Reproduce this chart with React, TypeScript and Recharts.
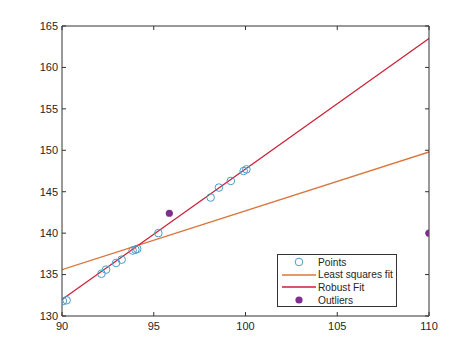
import React from 'react';
import { ComposedChart, XAxis, YAxis, Scatter, Line } from 'recharts';

const pointsX = [90.05, 90.25, 92.15, 92.4, 92.95, 93.25, 93.85, 94.0, 94.1, 95.25, 98.1, 98.55, 99.2, 99.9, 100.05];
const pointsY = [131.8, 131.9, 135.1, 135.6, 136.4, 136.8, 137.9, 138.0, 138.1, 140.0, 144.3, 145.5, 146.3, 147.5, 147.7];
const outlierX = [95.85, 110];
const outlierY = [142.4, 140.0];
const fitX = [90, 110];
const lsY = [135.6, 149.8];
const robustY = [132.0, 163.5];
const xTicks = [90, 95, 100, 105, 110];
const yTicks = [130, 135, 140, 145, 150, 155, 160, 165];

const pointsData = pointsX.map((x, i) => ({ x, y: pointsY[i] }));
const outlierData = outlierX.map((x, i) => ({ x, y: outlierY[i] }));
const lsData = fitX.map((x, i) => ({ x, y: lsY[i] }));
const robustData = fitX.map((x, i) => ({ x, y: robustY[i] }));

const C_POINTS = '#4a9cc9';
const C_LS = '#d9773f';
const C_ROBUST = '#cc1f36';
const C_OUT = '#7e2f8e';
const AX = '#333333';
const FONT = '"Liberation Sans", Arial, Helvetica, sans-serif';

const legendItems = [
  { name: 'Points', kind: 'circle' },
  { name: 'Least squares fit', kind: 'ls' },
  { name: 'Robust Fit', kind: 'robust' },
  { name: 'Outliers', kind: 'dot' },
];

const LegendBox = () => (
  <div
    style={{
      position: 'absolute',
      left: 277,
      top: 254,
      border: `1px solid ${AX}`,
      background: '#fff',
      width: 120,
      height: 53,
      padding: '1px 0 0 0',
      fontFamily: FONT,
      fontSize: 10.2,
      color: '#262626',
      boxSizing: 'border-box',
    }}
  >
    {legendItems.map((it) => (
      <div key={it.name} style={{ display: 'flex', alignItems: 'center', height: 12.6 }}>
        <svg width={38} height={12} style={{ marginLeft: 2, flex: 'none' }}>
          {it.kind === 'circle' && <circle cx={19} cy={6} r={3.8} fill="none" stroke={C_POINTS} strokeWidth={1} />}
          {it.kind === 'ls' && <line x1={2} x2={36} y1={6} y2={6} stroke={C_LS} strokeWidth={1.3} />}
          {it.kind === 'robust' && <line x1={2} x2={36} y1={6} y2={6} stroke={C_ROBUST} strokeWidth={1.3} />}
          {it.kind === 'dot' && <circle cx={19} cy={6} r={3.6} fill={C_OUT} />}
        </svg>
        <span style={{ whiteSpace: 'nowrap' }}>{it.name}</span>
      </div>
    ))}
  </div>
);

const tickStyle = { fontSize: 11, fill: '#262626', fontFamily: FONT };
const noLabel = () => <g />;

export default function App() {
  return (
    <div style={{ position: 'absolute', left: 0, top: 0, width: 474, height: 355, background: '#fff' }}>
      <ComposedChart
        width={474}
        height={355}
        margin={{ top: 25, right: 44, bottom: 14, left: 22 }}
      >
        <XAxis
          dataKey="x"
          type="number"
          domain={[90, 110]}
          ticks={xTicks}
          allowDataOverflow
          height={25}
          tickSize={-4}
          tickMargin={10}
          stroke={AX}
          tick={tickStyle}
        />
        <XAxis
          xAxisId="top"
          dataKey="x"
          orientation="top"
          type="number"
          domain={[90, 110]}
          ticks={xTicks}
          allowDataOverflow
          height={1}
          tickSize={-4}
          tick={noLabel}
          stroke={AX}
        />
        <YAxis
          dataKey="y"
          type="number"
          domain={[130, 165]}
          ticks={yTicks}
          allowDataOverflow
          width={40}
          tickSize={-4}
          tickMargin={8}
          stroke={AX}
          tick={tickStyle}
        />
        <YAxis
          yAxisId="right"
          dataKey="y"
          orientation="right"
          type="number"
          domain={[130, 165]}
          ticks={yTicks}
          allowDataOverflow
          width={1}
          tickSize={-4}
          tick={noLabel}
          stroke={AX}
        />
        <Line
          data={lsData}
          dataKey="y"
          name="Least squares fit"
          type="linear"
          stroke={C_LS}
          strokeWidth={1.3}
          dot={false}
          activeDot={false}
          isAnimationActive={false}
        />
        <Line
          data={robustData}
          dataKey="y"
          name="Robust Fit"
          type="linear"
          stroke={C_ROBUST}
          strokeWidth={1.3}
          dot={false}
          activeDot={false}
          isAnimationActive={false}
        />
        <Scatter
          data={pointsData}
          dataKey="y"
          name="Points"
          isAnimationActive={false}
          shape={(p: any) => <circle cx={p.cx} cy={p.cy} r={3.8} fill="none" stroke={C_POINTS} strokeWidth={1} />}
        />
        <Scatter
          data={outlierData}
          dataKey="y"
          name="Outliers"
          xAxisId="top"
          yAxisId="right"
          isAnimationActive={false}
          shape={(p: any) => <circle cx={p.cx} cy={p.cy} r={3.6} fill={C_OUT} />}
        />
      </ComposedChart>
      <LegendBox />
    </div>
  );
}
